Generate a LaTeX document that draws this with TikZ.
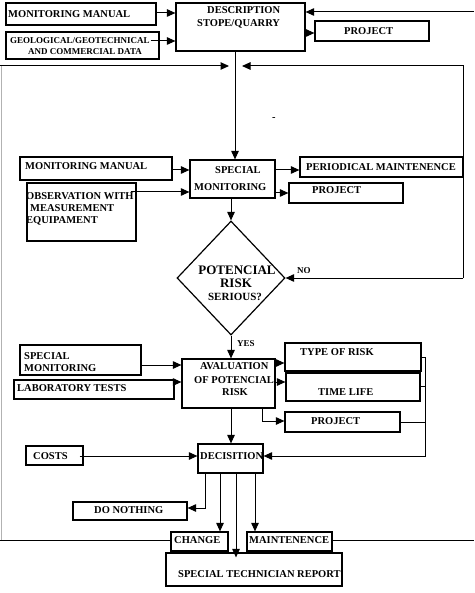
\documentclass[tikz,border=0pt]{standalone}
\usepackage{fontspec}
\setmainfont{Liberation Serif}
\usetikzlibrary{arrows.meta,shapes.geometric,fit}
\newcommand\ftA{\fontsize{10.5}{12}\selectfont\bfseries}
\newcommand\ftB{\fontsize{9}{10}\selectfont\bfseries}
\newcommand\ftC{\fontsize{13}{14}\selectfont\bfseries}
\newcommand\ftD{\fontsize{11}{12}\selectfont\bfseries}
\begin{document}
\begin{tikzpicture}[x=1pt,y=-1pt,
  box/.style={draw, line width=1.2pt, inner sep=0pt, rectangle},
  txt/.style={inner sep=0pt, anchor=west, font=\ftA},
  ctxt/.style={inner sep=0pt, anchor=center},
  ln/.style={line width=1pt},
  arr/.style={line width=1pt, -{Triangle[length=8.5pt,width=7.5pt]}}]
\useasboundingbox (0,0) rectangle (474,593);
\fill[white] (0,0) rectangle (474,593);
% boxes
\node[box, fit={(6,3)(156,25)}] (mm1) {};
\node[box, fit={(6,32)(159,59)}] (geo) {};
\node[box, fit={(176,3)(305,51)}] (desc) {};
\node[box, fit={(315,21)(429,41)}] (proj1) {};
\node[box, fit={(20,157)(172,180)}] (mm2) {};
\node[box, fit={(190,160)(275,198)}] (spm) {};
\node[box, fit={(300,157)(463,177)}] (pm) {};
\node[box, fit={(289,183)(403,203)}] (proj2) {};
\node[box, fit={(27,183)(136,241)}] (obs) {};
\node[draw, line width=1.2pt, diamond, minimum width=108pt, minimum height=114pt, inner sep=0pt] (dia) at (231,278) {};
\node[box, fit={(20,345)(141,375)}] (spm3) {};
\node[box, fit={(14,380)(174,399)}] (lab) {};
\node[box, fit={(182,359)(275,408)}] (aval) {};
\node[box, fit={(285,343)(421,371)}] (tor) {};
\node[box, fit={(286,373)(420,401)}] (tl) {};
\node[box, fit={(285,412)(400,432)}] (proj3) {};
\node[box, fit={(26,446)(83,465)}] (costs) {};
\node[box, fit={(198,444)(263,473)}] (dec) {};
\node[box, fit={(73,502)(187,520)}] (dn) {};
\node[box, fit={(171,532)(228,551)}] (change) {};
\node[box, fit={(247,532)(332,551)}] (maint) {};
\node[box, fit={(166,553)(342,586)}] (str) {};
% texts
\node[txt] (t1) at (8,14) {MONITORING MANUAL};
\node[txt, font=\ftB] (t2) at (10,41) {GEOLOGICAL/GEOTECHNICAL};
\node[txt, font=\ftB] (t3) at (28,52) {AND COMMERCIAL DATA};
\node[txt] (t4) at (207,10) {DESCRIPTION};
\node[txt] (t5) at (197,24) {STOPE/QUARRY};
\node[txt] (t6) at (344,31) {PROJECT};
\node[txt] (t7) at (272,119) {-};
\node[txt] (t8) at (25,166) {MONITORING MANUAL};
\node[txt] (t9) at (215,170) {SPECIAL};
\node[txt] (t10) at (194,187) {MONITORING};
\node[txt] (t11) at (306,167) {PERIODICAL MAINTENENCE};
\node[txt] (t12) at (312,190) {PROJECT};
\node[txt] (t13) at (26,196) {OBSERVATION WITH};
\node[txt] (t14) at (30,208) {MEASUREMENT};
\node[txt] (t15) at (26,221) {EQUIPAMENT};
\node[ctxt, font=\ftC] (t16) at (237,270) {POTENCIAL};
\node[ctxt, font=\ftC] (t17) at (236,283) {RISK};
\node[ctxt, font=\ftD] (t18) at (235,297) {SERIOUS?};
\node[txt, font=\ftB] (tno) at (297,271) {NO};
\node[txt, font=\ftB] (tyes) at (237,344) {YES};
\node[txt] (t19) at (24,356) {SPECIAL};
\node[txt] (t20) at (24,368) {MONITORING};
\node[txt] (t21) at (17,388) {LABORATORY TESTS};
\node[txt] (t22) at (200,366) {AVALUATION};
\node[txt] (t23) at (194,380) {OF POTENCIAL};
\node[txt] (t24) at (222,392) {RISK};
\node[txt] (t25) at (300,352) {TYPE OF RISK};
\node[txt] (t26) at (318,392) {TIME LIFE};
\node[txt] (t27) at (311,421) {PROJECT};
\node[txt] (t28) at (33,456) {COSTS};
\node[txt] (t29) at (200,456) {DECISITION};
\node[txt] (t30) at (94,510) {DO NOTHING};
\node[txt] (t31) at (174,540) {CHANGE};
\node[txt] (t32) at (249,540) {MAINTENENCE};
\node[txt] (t33) at (178,574) {SPECIAL TECHNICIAN REPORT};
% coordinates
\coordinate (rtop) at (474,12);
\coordinate (lt) at (1.5,66);
\coordinate (lb) at (1.5,540);
\coordinate (rb) at (474,540);
\coordinate (rl) at (463,66);
\coordinate (rn) at (463,278);
\coordinate (la) at (229,66);
\coordinate (ra) at (242,66);
\coordinate (bx) at (425,0);
% connectors top
\draw[arr] (mm1.east |- 0,13) -- (desc.west |- 0,13);
\draw[arr] ([xshift=-9pt]geo.east |- 0,41) -- (desc.west |- 0,41);
\draw[arr] (rtop) -- (desc.east |- rtop);
\draw[arr] (desc.east |- 0,33) -- (proj1.west |- 0,33);
\draw[arr] (desc.south -| 235,0) -- (spm.north -| 235,0);
\draw[line width=1.8pt, gray!60] (lb) -- (lt);
\draw[arr] (0,66) -- (la);
\draw[arr] (rn) -- (rl) -- (ra);
\draw[arr] (rn) -- (dia.east);
% special monitoring
\draw[arr] (mm2.east |- 0,170) -- (spm.west |- 0,170);
\draw[arr] ([xshift=-6pt]obs.east |- 0,192) -- (spm.west |- 0,192);
\draw[arr] (spm.east |- 0,170) -- (pm.west |- 0,170);
\draw[arr] ([xshift=-2pt]spm.east |- 0,193) -- (proj2.west |- 0,193);
\draw[arr] (spm.south -| dia.north) -- (dia.north);
% diamond to evaluation
\draw[arr] (dia.south) -- (aval.north -| dia.south);
\draw[arr] (spm3.east |- 0,365) -- (aval.west |- 0,365);
\draw[arr] (lab.east |- 0,382) -- (aval.west |- 0,382);
\draw[arr] (aval.east |- 0,363) -- (tor.west |- 0,363);
\draw[arr] (aval.east |- 0,382) -- (tl.west |- 0,382);
\draw[arr] (aval.south -| 262,0) -- (262,421) -- (proj3.west |- 0,421);
\draw[arr] (aval.south -| dia.south) -- (dec.north -| dia.south);
\draw[ln] (tor.east |- 0,357) -- (bx |- 0,357);
\draw[ln] (tl.east |- 0,386) -- (bx |- 0,386);
\draw[ln] (proj3.east |- 0,422) -- (bx |- 0,422);
\draw[arr] (bx |- 0,357) -- (bx |- 0,456) -- (dec.east |- 0,456);
\draw[arr] ([xshift=-4pt]costs.east |- 0,456) -- (dec.west |- 0,456);
% decision outputs
\draw[arr] (dec.south -| 205,0) -- (205,508) -- (dn.east |- 0,508);
\draw[arr] (dec.south -| 220,0) -- (change.north -| 220,0);
\draw[arr] (dec.south -| 236,0) -- ([yshift=-5pt]str.north -| 236,0);
\draw[arr] (dec.south -| 255,0) -- (maint.north -| 255,0);
\draw[ln] (change.west |- lb) -- (0,540);
\draw[ln] (maint.east |- rb) -- (rb);
\end{tikzpicture}
\end{document}
